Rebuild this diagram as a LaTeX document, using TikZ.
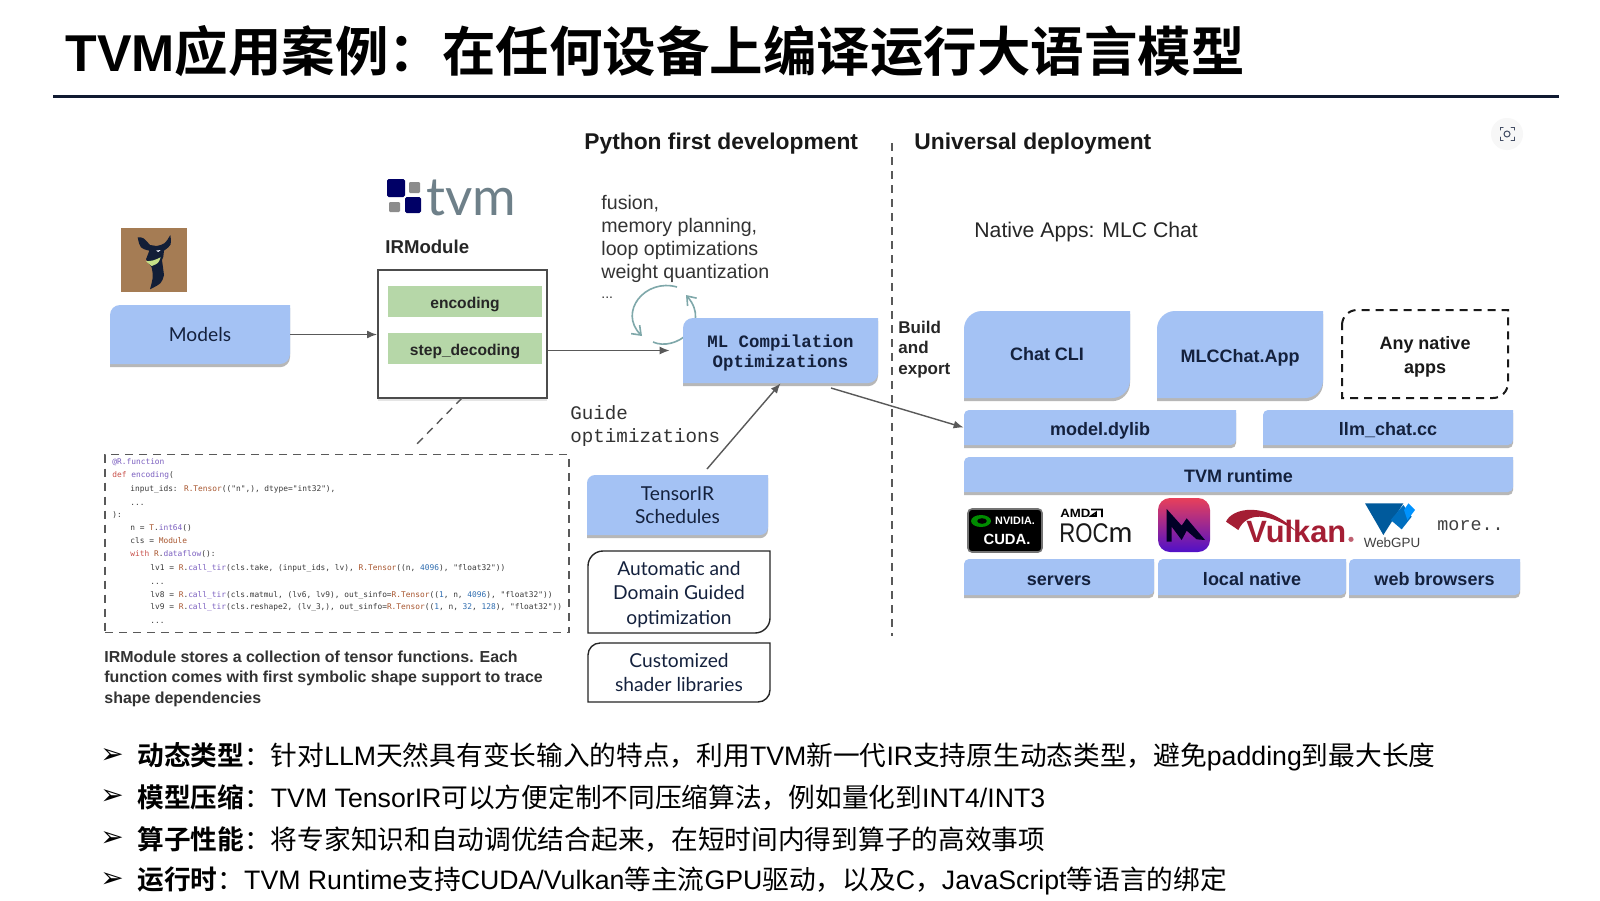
\documentclass[tikz,border=0pt]{standalone}
\usepackage{fontspec}
\setmainfont{Liberation Sans}
\newfontfamily\cjkf{Noto Sans CJK SC}[BoldFont={Noto Sans CJK SC Bold}]
\newfontfamily\latof{Lato}
\newfontfamily\monof{Liberation Mono}
\newfontfamily\codef{DejaVu Sans Mono}
\newfontfamily\symf{DejaVu Sans}
\newfontfamily\rocf{Liberation Sans}[FakeStretch=.82]
\newfontfamily\amdf{Liberation Sans}[FakeStretch=1.1]
\usetikzlibrary{arrows.meta,shadows}
\definecolor{boxblue}{HTML}{A4C2F4}
\definecolor{boxgreen}{HTML}{B6D7A8}
\definecolor{inkd}{HTML}{14213D}
\definecolor{linegr}{HTML}{595959}
\definecolor{cloop}{HTML}{7FA8AA}
\definecolor{cfun}{HTML}{7B5FC0}
\definecolor{ckey}{HTML}{C8504A}
\definecolor{cobj}{HTML}{A8562F}
\definecolor{cnum}{HTML}{2F6DB0}
\definecolor{ctxt}{HTML}{3A3A3A}
\definecolor{vkred}{HTML}{A41E34}
\newcommand{\fs}[1]{\fontsize{#1}{#1}\selectfont}
\newcommand{\cn}[1]{{\cjkf #1}}
\newcommand{\st}{\vphantom{Ag}}
\newcommand{\lw}[1]{\rule[-.2em]{0pt}{1.34em}#1}
\newcommand{\rbox}[9]{%
  \path[#6] (#2,{#3+#7}) .. controls (#2,{#3+.45*#7}) and ({#2+.45*#7},#3) .. ({#2+#7},#3) -- (#4,#3) -- (#4,{#5-#7}) .. controls (#4,{#5-.45*#7}) and ({#4-.45*#7},#5) .. ({#4-#7},#5) -- (#2,#5) -- cycle;
  \node[minimum width={(#4-#2)*0.5pt},minimum height={(#5-#3)*0.5pt},inner sep=0pt,align=center,#8] (#1) at ({(#2+#4)/2},{(#3+#5)/2}) {#9};}
\newcommand{\codeline}[3]{\node[anchor=west,inner sep=0pt,text=ctxt,font=\codef\fs{3.93}] (#1) at (#2) {\strut #3};}
\newcommand{\kw}[1]{\textcolor{ckey}{#1}}
\newcommand{\fn}[1]{\textcolor{cfun}{#1}}
\newcommand{\ob}[1]{\textcolor{cobj}{#1}}
\newcommand{\nm}[1]{\textcolor{cnum}{#1}}
\tikzset{
  bbox/.style={fill=boxblue,drop shadow={shadow xshift=0pt,shadow yshift=-1.6pt,opacity=.4,fill=black!70}},
  wbox/.style={draw=black!85,line width=.7pt,fill=white},
  arr/.style={draw=linegr,line width=.7pt,-{Latex[length=5pt,width=4pt]}},
  dashln/.style={draw=linegr,line width=.7pt,dash pattern=on 4pt off 3pt},
  loopa/.style={draw=cloop,line width=.8pt,-{Straight Barb[length=4pt,width=6pt]}},
  sanb/.style={font=\bfseries\fs{9},text=inkd},
  lato/.style={font=\latof\fs{9.6},text=inkd},
  mlm/.style={font=\monof\bfseries\fs{8.7},text=inkd},
  txt/.style={inner sep=0pt,anchor=west,align=left},
  bul/.style={inner sep=0pt,anchor=west,font=\fs{13.35},text=black},
}
\begin{document}
\begin{tikzpicture}[x=0.5pt,y=-0.5pt]
\useasboundingbox (0,0) rectangle (1600,900);
\fill[white] (0,0) rectangle (1600,900);
% title
\node[txt,font=\bfseries\fs{26.75},text=black] (title) at (65,51) {{\fs{25.9}TVM}\cn{应用案例：在任何设备上编译运行大语言模型}};
\draw[line width=1.5pt,color=inkd!80!black] (53,96) -- (1559,96);
% headings
\node[txt,font=\bfseries\fs{11.4},text=black!90] (h1) at (584,144) {\st Python first development};
\node[txt,font=\bfseries\fs{11.4},text=black!90] (h2) at (914,144) {\st Universal deployment};
\node[txt,font=\fs{10.6},text=black!85] (native) at (974,232) {\st Native Apps: MLC Chat};
% top right icon
\fill[black!3] (1507,134) circle (8pt);
\begin{scope}[draw=inkd!80,line width=.5pt,line cap=round]
\draw (1500,130) -- (1500,127.5) -- (1503,127.5);
\draw (1511,127.5) -- (1514,127.5) -- (1514,130);
\draw (1500,137) -- (1500,140) -- (1503,140);
\draw (1511,140) -- (1514,140) -- (1514,137);
\draw (1507,134) circle (1.5pt);
\end{scope}
% llama
\fill[fill={rgb,255:red,165;green,124;blue,84}] (121,228) rectangle (187,292);
\begin{scope}[shift={(90,160)},x=0.16667pt,y=-0.16667pt]
\fill[fill=inkd!90!black] (143,232) .. controls (160,232) .. (180,255) -- (200,258) .. controls (225,252) .. (241,225) .. controls (245,255) .. (222,272) -- (220,290) -- (216,300) -- (222,345) .. controls (215,370) .. (180,388) .. controls (190,350) .. (185,322) -- (168,298) -- (178,272) .. controls (150,265) .. (143,232) -- cycle;
\fill[fill=boxgreen!80!yellow] (168,304) .. controls (190,302) .. (212,292) .. controls (205,310) .. (185,318) -- cycle;
\fill[white!80!boxblue] (198,272) -- (212,270) -- (205,276) -- cycle;
\end{scope}
% Models
\rbox{models}{110}{305}{290}{364}{bbox}{10}{lato}{Models}
% tvm logo
\fill[fill=black!45!white,rounded corners=.6pt] (409,182) rectangle (420,193) (389,202) rectangle (400,212);
\fill[fill=blue!40!black,rounded corners=.8pt] (387,179) rectangle (405,197) (405,197) rectangle (421,213);
\node[inner sep=0pt,anchor=west,font=\latof\fs{26.5},text={rgb,255:red,110;green,128;blue,137}] (tvmname) at (426,198) {tvm};
\node[txt,font=\bfseries\fs{9.3},text=black!85] (irlabel) at (385,247) {IRModule};
% IR module
\node[draw=black!70,line width=1pt,fill=white,minimum width=84.5pt,minimum height=64pt,inner sep=0pt,drop shadow={shadow xshift=0pt,shadow yshift=-1.5pt,opacity=.2}] (ir) at (462.5,334) {};
\node[fill=boxgreen,minimum width=77pt,minimum height=15.5pt,inner sep=0pt,font=\bfseries\fs{7.8},text=black!85] (enc) at (465,301.5) {\lw{encoding}};
\node[fill=boxgreen,minimum width=77pt,minimum height=15.5pt,inner sep=0pt,font=\bfseries\fs{7.8},text=black!85] (dec) at (465,348.5) {\lw{step\_decoding}};
% fusion text
\node[txt,font=\fs{9.8},text=black!80] (fus1) at (601,204.5) {\st fusion,};
\node[txt,font=\fs{9.8},text=black!80] (fus2) at (601,227.5) {\st memory planning,};
\node[txt,font=\fs{9.8},text=black!80] (fus3) at (601,250.5) {\st loop optimizations};
\node[txt,font=\fs{9.8},text=black!80] (fus4) at (601,273.5) {\st weight quantization};
\node[txt,font=\fs{7},text=black!80] (fus5) at (601,298) {...};
% loop arrows
\coordinate (lc1) at (677,287);
\coordinate (lc2) at (642,336);
\coordinate (lc3) at (653,342);
\coordinate (lc4) at (686,295);
\draw[loopa] (lc1) .. controls (645,278) and (618,312) .. (lc2);
\draw[loopa] (lc3) .. controls (675,352) and (712,325) .. (lc4);
% ML box
\rbox{ml}{683}{318}{878}{383}{bbox}{10}{mlm}{\rule{0pt}{1em}ML Compilation\\[1.6pt]Optimizations}
% divider
\coordinate (dv1) at (892,143); \coordinate (dv2) at (892,636);
\draw[dashln] (dv1) -- (dv2);
\node[txt,font=\bfseries\fs{8.5},text=black!85] (bd1) at (898,329) {\st Build};
\node[txt,font=\bfseries\fs{8.5},text=black!85] (bd2) at (898,349) {\st and};
\node[txt,font=\bfseries\fs{8.5},text=black!85] (bd3) at (898,370) {\st export};
% guide
\node[txt,font=\monof\fs{9.6},text=black!80] (gd1) at (570,415) {\st Guide};
\node[txt,font=\monof\fs{9.6},text=black!80] (gd2) at (570,438) {\st optimizations};
% left lower boxes
\rbox{tensor}{587}{475}{768}{535}{bbox}{8}{lato}{TensorIR\\[2pt]Schedules}
\rbox{auto}{588}{551}{770}{633}{wbox}{15}{lato}{\rule{0pt}{1em}Automatic and\\[2.6pt]Domain Guided\\[2.6pt]optimization}
\rbox{custom}{588}{643}{770}{702}{wbox}{12}{lato}{Customized\\[2pt]shader libraries}
% code box
\node[dashln,minimum width=232pt,minimum height=89pt,inner sep=0pt] (code) at (337,543.5) {};
\codeline{c1}{112,463}{\fn{@R.function}}
\codeline{c2}{112,476}{\kw{def} \fn{encoding}(}
\codeline{c3}{130,490}{input\_ids: \ob{R.Tensor}(("n",), dtype="int32"),}
\codeline{c4}{130,504}{...}
\codeline{c5}{112,516}{):}
\codeline{c6}{130,529}{n = \ob{T}.\fn{int64}()}
\codeline{c7}{130,542}{cls = \ob{Module}}
\codeline{c8}{130,555}{\kw{with} \ob{R}.\fn{dataflow}():}
\codeline{c9}{150,569}{lv1 = \ob{R}.\fn{call\_tir}(cls.take, (input\_ids, lv), \ob{R.Tensor}((n, \nm{4096}), "float32"))}
\codeline{c10}{150,583}{...}
\codeline{c11}{150,596}{lv8 = \ob{R}.\fn{call\_tir}(cls.matmul, (lv6, lv9), out\_sinfo=\ob{R.Tensor}((\nm{1}, n, \nm{4096}), "float32"))}
\codeline{c12}{150,608}{lv9 = \ob{R}.\fn{call\_tir}(cls.reshape2, (lv\_3,), out\_sinfo=\ob{R.Tensor}((\nm{1}, n, \nm{32}, \nm{128}), "float32"))}
\codeline{c13}{150,622}{...}
% caption
\node[txt,font=\bfseries\fs{7.97},text=black!80] (cap1) at (104,658) {\st IRModule stores a collection of tensor functions. Each};
\node[txt,font=\bfseries\fs{7.97},text=black!80] (cap2) at (104,678) {\st function comes with first symbolic shape support to trace};
\node[txt,font=\bfseries\fs{7.97},text=black!80] (cap3) at (104,699) {\st shape dependencies};
% right stack
\rbox{chat}{964}{311}{1130}{398}{bbox}{18}{sanb}{Chat CLI}
\rbox{mlcchat}{1157}{311}{1323}{398}{bbox}{18}{sanb}{\lw{MLCChat.App}}
\rbox{anyapp}{1342}{310}{1508}{398}{draw=black!90,line width=1pt,dash pattern=on 4pt off 3pt}{15}{sanb,text=black!90}{\rule{0pt}{1.05em}Any native\\[3pt]apps}
\rbox{dylib}{964}{410}{1236}{445}{bbox}{5}{sanb}{\lw{model.dylib}}
\rbox{llm}{1263}{410}{1513}{445}{bbox}{5}{sanb}{\lw{llm\_chat.cc}}
\rbox{runtime}{964}{457}{1513}{492}{bbox}{5}{sanb}{\lw{TVM runtime}}
\rbox{servers}{964}{559}{1154}{595}{bbox}{5}{sanb}{\lw{servers}}
\rbox{localn}{1158}{559}{1346}{595}{bbox}{5}{sanb}{\lw{local native}}
\rbox{web}{1349}{559}{1520}{595}{bbox}{5}{sanb}{\lw{web browsers}}
% NVIDIA
\fill[fill=black,draw=black!55,line width=.8pt,rounded corners=2pt] (968,509) rectangle (1042,552);
\fill[fill=green!55!black] (981,521) ellipse (5pt and 3pt);
\fill[fill=black] (982,521) ellipse (2.4pt and 1.4pt);
\node[inner sep=0pt,font=\bfseries\fs{5.4},text=white] (nv) at (1015,521) {NVIDIA.};
\node[inner sep=0pt,font=\bfseries\fs{7.4},text=white] (cuda) at (1007,539) {CUDA.};
% AMD ROCm
\node[txt,font=\amdf\bfseries\fs{6},text=black] (amd) at (1060,513) {AMD};
\draw[line width=.8pt,black] (1091,509.5) -- (1102,509.5) -- (1102,517) (1091,516) -- (1096,516) -- (1096,512.5) -- cycle;
\node[txt,font=\rocf\fs{13.5},text=black!90] (rocm) at (1059,533) {ROC{\latof\fs{14.5}m}};
% M logo and the other marks, in crop units
\shade[top color={rgb,255:red,232;green,64;blue,90},bottom color={rgb,255:red,80;green,16;blue,200},rounded corners=6pt] (1158,498) rectangle (1210,552);
\begin{scope}[shift={(1050,490)},x=0.16667pt,y=-0.16667pt]
\fill[fill=black!85!blue] (350,57) -- (395,107) -- (410,85) -- (465,150) -- (440,148) -- (410,122) -- (395,150) -- (365,110) -- (365,155) -- (350,155) -- cycle;
\fill[fill=vkred] (528,95) .. controls (545,55) and (645,30) .. (740,125) .. controls (650,65) and (590,67) .. (565,120) -- cycle;
\fill[fill=vkred!70] (903,148) circle (1.3pt);
\fill[fill={rgb,255:red,0;green,90;blue,156}] (945,40) -- (1060,40) -- (1000,135) -- cycle;
\fill[fill={rgb,255:red,0;green,110;blue,190}] (1022,90) -- (1060,45) -- (1085,80) -- (1055,118) -- cycle;
\fill[fill={rgb,255:red,0;green,147;blue,255}] (1075,40) -- (1095,60) -- (1072,90) -- (1062,60) -- cycle;
\end{scope}
\node[inner sep=0pt,anchor=west,font=\bfseries\fs{15.4},text=vkred] (vk) at (1246,531) {Vulkan};
\node[inner sep=0pt,font=\fs{6.7},text=black!75] (webgpu) at (1392,543) {WebGPU};
\node[txt,font=\monof\fs{9.2},text=black!75] (more) at (1437,526) {more..};
% connectors
\coordinate (e1) at (831,388);
\coordinate (gs) at (707,469);
\coordinate (d1) at (462,398);
\coordinate (d2) at (415,446);
\draw[arr] (models.east) -- (models.east -| ir.west);
\draw[arr,shorten >=6.5pt] (ml.west -| ir.east) -- (ml.west);
\draw[arr] (gs) -- (ml.south);
\draw[arr] (e1) -- (dylib.west);
\draw[dashln] (d1) -- (d2);
% bullets
\foreach \nn/\yy in {b1/756,b2/797,b3/839,b4/880}{
  \node[inner sep=0pt,anchor=west,font=\symf\fs{14},text=black] (\nn) at (100,\yy) {➢};
}
\node[bul] (t1) at (137,757) {\cn{\textbf{动态类型}：针对}LLM\cn{天然具有变长输入的特点，利用}TVM\cn{新一代}IR\cn{支持原生动态类型，避免}padding\cn{到最大长度}};
\node[bul] (t2) at (137,797) {\cn{\textbf{模型压缩}：}TVM TensorIR\cn{可以方便定制不同压缩算法，例如量化到}INT4/INT3};
\node[bul] (t3) at (137,839) {\cn{\textbf{算子性能}：将专家知识和自动调优结合起来，在短时间内得到算子的高效事项}};
\node[bul] (t4) at (137,881) {\cn{\textbf{运行时}：}TVM Runtime\cn{支持}CUDA/Vulkan\cn{等主流}GPU\cn{驱动，以及}C\cn{，}JavaScript\cn{等语言的绑定}};
\end{tikzpicture}
\end{document}
